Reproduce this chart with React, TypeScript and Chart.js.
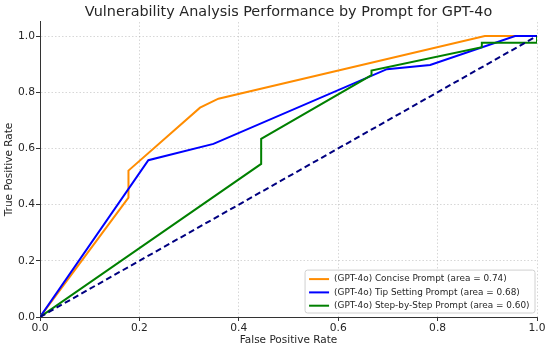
import React, { useEffect, useRef } from "react";
import { Chart, registerables } from "chart.js";

Chart.register(...registerables);

const titleText = "Vulnerability Analysis Performance by Prompt for GPT-4o";
const xLabel = "False Positive Rate";
const yLabel = "True Positive Rate";

const seriesLabels = [
  "(GPT-4o) Concise Prompt (area = 0.74)",
  "(GPT-4o) Tip Setting Prompt (area = 0.68)",
  "(GPT-4o) Step-by-Step Prompt (area = 0.60)",
];
const seriesColors = ["#ff8c00", "#0000ff", "#008000"];

const fprConcise = [0, 0.178, 0.178, 0.322, 0.359, 0.895, 1];
const tprConcise = [0, 0.425, 0.521, 0.745, 0.777, 1.0, 1.0];

const fprTip = [0, 0.218, 0.349, 0.698, 0.785, 0.956, 1];
const tprTip = [0, 0.558, 0.616, 0.882, 0.897, 1.0, 1.0];

const fprStep = [0, 0.445, 0.445, 0.667, 0.667, 0.889, 0.889, 1, 1];
const tprStep = [0, 0.545, 0.634, 0.861, 0.877, 0.96, 0.976, 0.976, 1.0];

const diagX = [0, 1];
const diagY = [0, 1];

const xTicks = [0, 0.2, 0.4, 0.6, 0.8, 1.0];

const FONT = "'DejaVu Sans', sans-serif";
const TEXT = "#262626";

function pts(xs: number[], ys: number[]) {
  return xs.map((x, i) => ({ x, y: ys[i] }));
}

const legendPlugin = {
  id: "boxLegend",
  afterDraw(chart: any) {
    const ctx = chart.ctx as CanvasRenderingContext2D;
    const area = chart.chartArea;
    const items = chart.data.datasets.filter((d: any) => d.inLegend);
    ctx.save();
    ctx.font = `8.9px ${FONT}`;
    let maxW = 0;
    items.forEach((d: any) => {
      maxW = Math.max(maxW, ctx.measureText(d.label).width);
    });
    const padL = 4, handle = 20, gap = 5, padR = 5.5;
    const rowH = 13.3, padT = 9, padB = 7.3;
    const w = padL + handle + gap + maxW + padR;
    const h = padT + rowH * (items.length - 1) + padB;
    const x0 = area.right - 2 - w;
    const y0 = area.bottom - 4 - h;
    const r = 2.5;
    ctx.beginPath();
    ctx.moveTo(x0 + r, y0);
    ctx.lineTo(x0 + w - r, y0);
    ctx.quadraticCurveTo(x0 + w, y0, x0 + w, y0 + r);
    ctx.lineTo(x0 + w, y0 + h - r);
    ctx.quadraticCurveTo(x0 + w, y0 + h, x0 + w - r, y0 + h);
    ctx.lineTo(x0 + r, y0 + h);
    ctx.quadraticCurveTo(x0, y0 + h, x0, y0 + h - r);
    ctx.lineTo(x0, y0 + r);
    ctx.quadraticCurveTo(x0, y0, x0 + r, y0);
    ctx.closePath();
    ctx.fillStyle = "rgba(255,255,255,0.8)";
    ctx.fill();
    ctx.strokeStyle = "#d0d0d0";
    ctx.lineWidth = 1;
    ctx.stroke();
    items.forEach((d: any, i: number) => {
      const cy = y0 + padT + rowH * i;
      ctx.beginPath();
      ctx.moveTo(x0 + padL, cy);
      ctx.lineTo(x0 + padL + handle, cy);
      ctx.strokeStyle = d.borderColor;
      ctx.lineWidth = 2;
      ctx.stroke();
      ctx.fillStyle = TEXT;
      ctx.textBaseline = "middle";
      ctx.textAlign = "left";
      ctx.fillText(d.label, x0 + padL + handle + gap, cy);
    });
    ctx.restore();
  },
};

export default function App() {
  const ref = useRef<HTMLCanvasElement | null>(null);
  useEffect(() => {
    if (!ref.current) return;
    const line = (label: string, data: any, color: string, order: number, extra: any = {}) => ({
      label,
      data,
      borderColor: color,
      backgroundColor: color,
      borderWidth: 2,
      pointRadius: 0,
      pointHoverRadius: 0,
      showLine: true,
      fill: false,
      tension: 0,
      order,
      inLegend: true,
      ...extra,
    });
    const chart = new Chart(ref.current, {
      type: "scatter",
      data: {
        datasets: [
          line(seriesLabels[0], pts(fprConcise, tprConcise), seriesColors[0], 4),
          line(seriesLabels[1], pts(fprTip, tprTip), seriesColors[1], 3),
          line(seriesLabels[2], pts(fprStep, tprStep), seriesColors[2], 2),
          line("", pts(diagX, diagY), "#000080", 1, { borderDash: [6, 3.5], inLegend: false }),
        ] as any,
      },
      options: {
        responsive: false,
        animation: false,
        devicePixelRatio: 1,
        layout: { padding: { left: 0, right: 13, top: 0, bottom: 0 } },
        plugins: {
          legend: { display: false },
          tooltip: { enabled: false },
          title: {
            display: true,
            fullSize: false,
            text: titleText,
            color: TEXT,
            font: { family: FONT, size: 14.4, weight: "normal" },
            padding: { top: 3.9, bottom: 0.8 },
          },
        },
        scales: {
          x: {
            type: "linear",
            min: 0,
            max: 1,
            afterBuildTicks: (s: any) => {
              s.ticks = xTicks.map((v) => ({ value: v }));
            },
            afterFit: (s: any) => {
              s.height = 34;
            },
            ticks: {
              color: TEXT,
              font: { family: FONT, size: 10.7 },
              padding: 1,
              maxRotation: 0,
              callback: (v: any) => Number(v).toFixed(1),
            },
            grid: {
              color: "rgba(170,170,170,0.6)",
              lineWidth: 0.8,
              drawTicks: true,
              tickLength: 4,
              tickColor: "#333",
              tickWidth: 1,
            },
            border: { display: true, color: "#333", width: 1, dash: [1.5, 2] },
            title: {
              display: true,
              text: xLabel,
              color: TEXT,
              font: { family: FONT, size: 10.5 },
              padding: { top: 0, bottom: 4.4 },
            },
          },
          y: {
            type: "linear",
            min: 0,
            max: 1.05,
            afterBuildTicks: (s: any) => {
              s.ticks = xTicks.map((v) => ({ value: v }));
            },
            afterFit: (s: any) => {
              s.width = 40;
            },
            ticks: {
              color: TEXT,
              font: { family: FONT, size: 10.7 },
              padding: 1,
              callback: (v: any) => Number(v).toFixed(1),
            },
            grid: {
              color: "rgba(170,170,170,0.6)",
              lineWidth: 0.8,
              drawTicks: true,
              tickLength: 4,
              tickColor: "#333",
              tickWidth: 1,
            },
            border: { display: true, color: "#333", width: 1, dash: [1.5, 2] },
            title: {
              display: true,
              text: yLabel,
              color: TEXT,
              font: { family: FONT, size: 10.5 },
              padding: { top: 3.2, bottom: 0 },
            },
          },
        },
      } as any,
      plugins: [legendPlugin],
    });
    return () => chart.destroy();
  }, []);
  return (
    <div style={{ position: "absolute", left: 0, top: 0, width: 550, height: 351, background: "#fff" }}>
      <canvas ref={ref} width={550} height={351} style={{ display: "block" }} />
    </div>
  );
}
